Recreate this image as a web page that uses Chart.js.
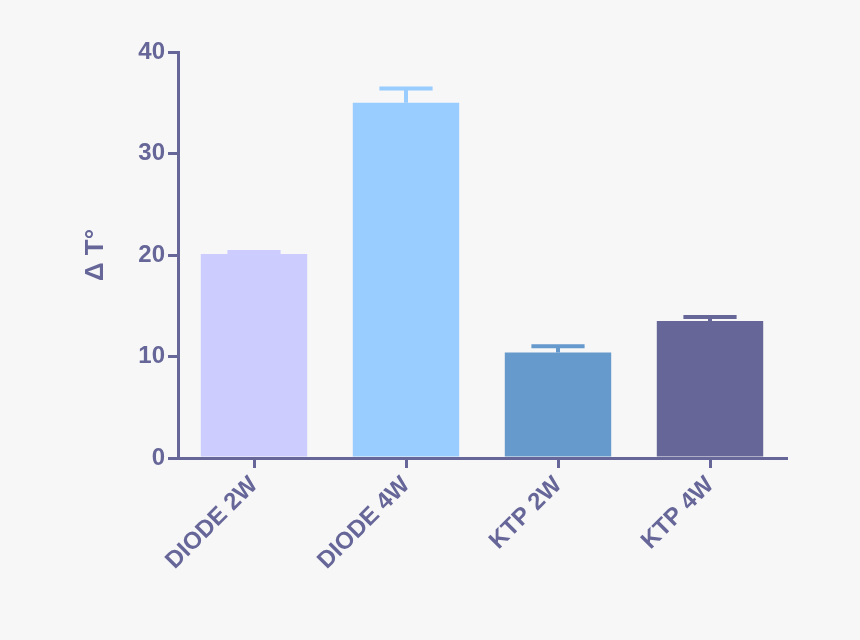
<!DOCTYPE html>
<html><head>
<script src="https://cdn.jsdelivr.net/npm/chart.js@4"></script>
<style>body{margin:0;background:#f7f7f7}#wrap{width:860px;height:640px}</style>
</head><body><div id="wrap"><canvas id="c"></canvas></div>
<script>
const categories = ['DIODE 2W', 'DIODE 4W', 'KTP 2W', 'KTP 4W'];
const means = [20.1, 35.0, 10.4, 13.5];
const errTop = [20.3, 36.4, 11.0, 13.9];
const colors = ['#ccccff', '#99ccff', '#6699cc', '#666699'];
const axisColor = '#666699';

const errorBars = {
    id: 'errorBars',
    afterDatasetsDraw(chart) {
        const ctx = chart.ctx;
        const meta = chart.getDatasetMeta(0);
        const y = chart.scales.y;
        meta.data.forEach((bar, i) => {
            const top = y.getPixelForValue(errTop[i]);
            const half = bar.width / 4;
            ctx.save();
            ctx.strokeStyle = colors[i];
            ctx.lineWidth = 4;
            ctx.beginPath();
            ctx.moveTo(bar.x, bar.y);
            ctx.lineTo(bar.x, top);
            ctx.moveTo(bar.x - half, top);
            ctx.lineTo(bar.x + half, top);
            ctx.stroke();
            ctx.restore();
        });
    }
};

new Chart(document.getElementById('c'), {
    type: 'bar',
    data: {
        labels: categories,
        datasets: [{
            data: means,
            backgroundColor: colors,
            categoryPercentage: 1,
            barPercentage: 0.7
        }]
    },
    options: {
        responsive: true,
        maintainAspectRatio: false,
        animation: false,
        layout: { padding: { top: 52, right: 74, left: 76, bottom: 0 } },
        plugins: { legend: { display: false }, tooltip: { enabled: false } },
        scales: {
            x: {
                afterFit: s => { s.height = 182; },
                grid: { offset: false, drawOnChartArea: false, color: axisColor, lineWidth: 3, tickLength: 10 },
                border: { color: axisColor, width: 3 },
                ticks: {
                    color: axisColor, maxRotation: 45, minRotation: 45,
                    font: { family: 'Liberation Sans', size: 24, weight: 'bold' }
                }
            },
            y: {
                min: 0, max: 40,
                afterFit: s => { s.width = 102; },
                grid: { drawOnChartArea: false, color: axisColor, lineWidth: 3, tickLength: 10 },
                border: { color: axisColor, width: 3 },
                ticks: {
                    stepSize: 10, color: axisColor,
                    font: { family: 'Liberation Sans', size: 24, weight: 'bold' }
                },
                title: {
                    display: true, text: 'Δ T°', color: axisColor,
                    font: { family: 'Liberation Sans', size: 26, weight: 'bold' }
                }
            }
        }
    },
    plugins: [errorBars]
});
</script></body></html>
